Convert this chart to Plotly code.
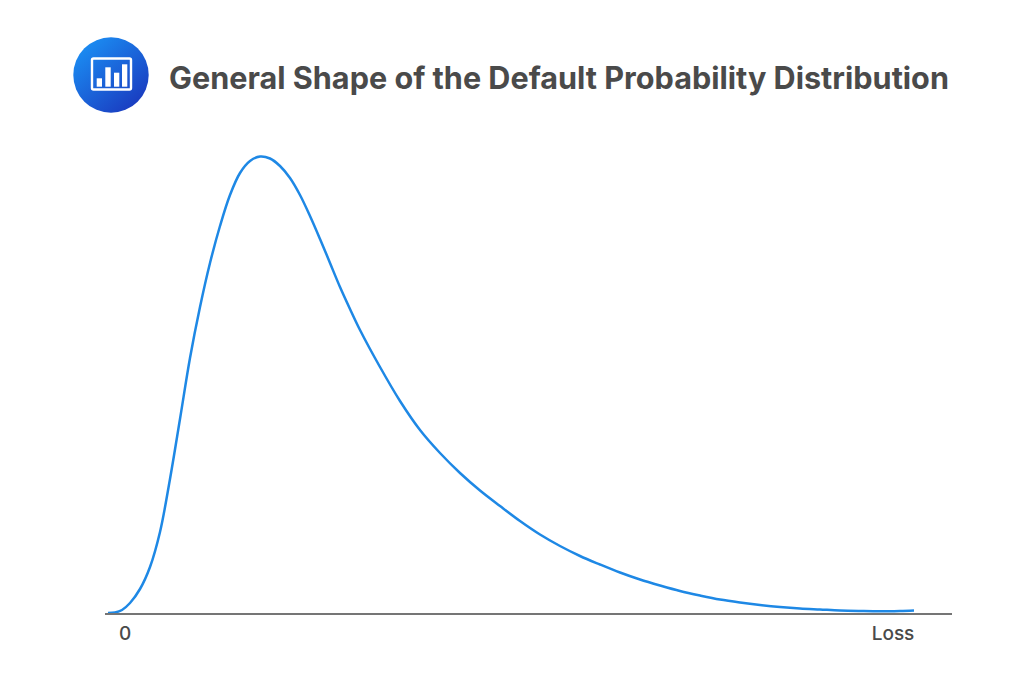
import base64
import plotly.graph_objects as go

# values (loss = pixels from axis start, density = pixels above axis)
loss = [3, 10, 17, 25, 35, 45, 55, 65, 75, 85, 95, 105, 115, 125, 135,
        145, 155, 165, 175, 185, 195, 205, 215, 225, 235, 245, 255, 275, 295, 315, 335,
        355, 375, 395, 415, 435, 455, 475, 495, 515, 535, 555, 575, 595, 615, 635, 655,
        675, 695, 715, 735, 755, 775, 795, 809]
density = [0, 0.5, 3, 10, 24, 46, 81, 134, 194, 255, 306, 350, 387,
           418, 440, 452, 456.5, 454.5, 447, 435, 418, 397, 374, 350, 326, 304, 283,
           246, 212, 183, 160, 140, 122.5, 107, 92, 78.5, 67, 57, 48.5, 40.5, 33.5, 27.5,
           22, 17.5, 13.5, 10.5, 8, 6, 4.5, 3.5, 2.5, 2, 1.7, 2, 2.5]
tick_vals = [20, 788]
tick_text = ["0", "Loss"]
title = "General Shape of the Default Probability Distribution"

# the page puts 8px of body margin round the figure
W, H = 1008, 665
left, right, top, bottom = 97, 64, 141, 60

# round badge with the little bar chart
icon_svg = """<svg xmlns="http://www.w3.org/2000/svg" viewBox="0 0 76 76" width="304" height="304">
<defs><linearGradient id="g" x1="0.15" y1="0.1" x2="0.85" y2="0.9">
<stop offset="0" stop-color="#1b8cf2"/><stop offset="1" stop-color="#1a3cc0"/></linearGradient></defs>
<circle cx="38" cy="38" r="37.7" fill="url(#g)"/>
<rect x="19" y="21.5" width="39" height="31" rx="1.5" fill="none" stroke="#fff" stroke-width="2.4"/>
<rect x="23.7" y="41.3" width="5.3" height="8.4" fill="#fff"/>
<rect x="32.3" y="30.3" width="5.4" height="19.4" fill="#fff"/>
<rect x="41" y="35.7" width="5.3" height="14" fill="#fff"/>
<rect x="49" y="27.3" width="5.3" height="22.4" fill="#fff"/>
</svg>"""
icon_src = "data:image/svg+xml;base64," + base64.b64encode(icon_svg.encode()).decode()

plot_w = W - left - right
plot_h = H - top - bottom

fig = go.Figure()
fig.add_trace(go.Scatter(x=loss, y=density, mode="lines", cliponaxis=False,
                         line=dict(color="#1e88e5", width=2.5, shape="spline", smoothing=1),
                         hoverinfo="skip", showlegend=False))

fig.update_layout(
    width=W, height=H, autosize=False,
    margin=dict(l=left, r=right, t=top, b=bottom, pad=0),
    paper_bgcolor="white", plot_bgcolor="white",
    xaxis=dict(range=[0, plot_w], showgrid=False, zeroline=False, showline=True,
               linecolor="#757575", linewidth=2, ticks="", tickmode="array",
               tickvals=tick_vals, ticktext=tick_text, ticklabelstandoff=2,
               tickfont=dict(family="Inter", size=19, color="#4a4a4a", weight=500)),
    yaxis=dict(range=[0, plot_h], visible=False),
    annotations=[dict(text=title, xref="paper", yref="paper", showarrow=False,
                      x=(159 - left) / plot_w, y=(H - bottom - 69) / plot_h,
                      xanchor="left", yanchor="middle",
                      font=dict(family="Inter", size=30.6, color="#4a4a4a", weight=700))],
    images=[dict(source=icon_src, xref="paper", yref="paper", layer="above",
                 x=(65 - left) / plot_w, y=(H - bottom - 29) / plot_h,
                 sizex=76 / plot_w, sizey=76 / plot_h,
                 xanchor="left", yanchor="top", sizing="stretch")],
)

fig.write_html("out.html")
